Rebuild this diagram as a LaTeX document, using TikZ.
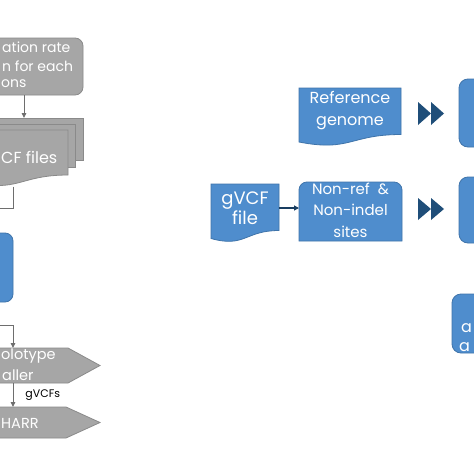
\documentclass[tikz,border=0pt]{standalone}
\usepackage{fontspec}
\setmainfont{Poppins}
\usetikzlibrary{arrows.meta}
\definecolor{bfill}{HTML}{4F8DCD}
\definecolor{bline}{HTML}{3F74AA}
\definecolor{gfill}{HTML}{A6A6A6}
\definecolor{gline}{HTML}{8A8A8A}
\definecolor{navy}{HTML}{1F4E79}
\definecolor{conn}{HTML}{6E6E6E}
\tikzset{
  bshape/.style={fill=bfill, draw=bline, line width=0.8pt},
  gshape/.style={fill=gfill, draw=gline, line width=0.8pt},
  holder/.style={draw=none, inner sep=0pt, outer sep=0pt},
  wtext/.style={text=white, inner sep=0pt, font=\fontsize{16pt}{22pt}\selectfont},
  wtextS/.style={text=white, inner sep=0pt, font=\fontsize{14pt}{19pt}\selectfont},
  gconn/.style={draw=conn, line width=0.9pt},
  garrow/.style={gconn, -{Triangle[length=5pt,width=4.5pt]}},
  barrow/.style={draw=navy!80!black, line width=1.1pt, -{Triangle[length=5pt,width=5pt]}},
  tri/.style={fill=navy, draw=none}
}
\begin{document}
\begin{tikzpicture}[x=1pt,y=-1pt]
\useasboundingbox (0,0) rectangle (474,474);
\clip (0,0) rectangle (474,474);
\fill[white] (0,0) rectangle (474,474);

% ---------- left column ----------
\node[holder, minimum width=110pt, minimum height=57pt] (calc) at (28,66.5) {};
\path[gshape, rounded corners=8pt] (-27,38) rectangle (83,95);
\node[wtextS, anchor=west] (calcA) at (2,47) {ation rate};
\node[wtextS, anchor=west] (calcB) at (2,66) {n for each};
\node[wtextS, anchor=west] (calcC) at (1,84) {ons};

% stacked documents
\node[holder, minimum width=113pt, minimum height=42pt] (stack) at (26.5,139) {};
\path[gshape] (-30,118) rectangle (83,160);
\path[gshape] (-30,124) rectangle (75,167);
\node[holder, minimum width=98pt, minimum height=56pt] (front) at (19,158) {};
\path[gshape] (-30,130) -- (68,130) -- (68,175) .. controls (19,175) and (19,193) .. (-30,182) -- cycle;
\node[wtext, anchor=west] (cf) at (1,157) {CF files};

\coordinate (x24) at (24,0);
\coordinate (x13) at (13,0);
\draw[garrow] (calc.south -| x24) -- (stack.north -| x24);
\coordinate (stackout) at (-5,208);
\draw[gconn] (13,186.5) |- (stackout);

% blue box (clipped)
\node[holder, minimum width=50pt, minimum height=69pt] (blueL) at (-12,267.5) {};
\path[bshape, rounded corners=8pt] (-37,233) rectangle (13,302);

% haplotype caller
\node[holder, minimum width=130pt, minimum height=35pt] (hc) at (35,365.5) {};
\path[gshape] (-30,348) -- (68,348) -- (100,365.5) -- (68,383) -- (-30,383) -- cycle;
\node[wtext, font=\fontsize{14.5pt}{18pt}\selectfont, anchor=west] (hcA) at (1,356) {olotype};
\node[wtext, font=\fontsize{14.5pt}{18pt}\selectfont, anchor=west] (hcB) at (2,375) {aller};

\coordinate (elbowin) at (-5,325);
\draw[garrow] (elbowin) -| (hc.north -| x13);

% HARR
\node[holder, minimum width=130pt, minimum height=31pt] (harr) at (35,422.5) {};
\path[gshape] (-30,407) -- (66,407) -- (100,422.5) -- (66,438) -- (-30,438) -- cycle;
\node[wtext, font=\fontsize{14.5pt}{18pt}\selectfont, anchor=west] (harrT) at (1,423) {HARR};

\draw[garrow] (hc.south -| x13) -- node[anchor=west, text=black, inner sep=0pt, xshift=12pt, font=\fontsize{11pt}{13pt}\selectfont] (gv) {gVCFs} (harr.north -| x13);

% ---------- right part ----------
% Reference genome
\node[holder, minimum width=102pt, minimum height=47pt] (ref) at (350,111.5) {};
\path[bshape] (299,88) -- (401,88) -- (401,134.5) .. controls (350,134.5) and (350,152) .. (299,142) -- cycle;
\node[wtext, align=center] (refT) at (350,110.5) {Reference\\genome};

% gVCF file
\node[holder, minimum width=68pt, minimum height=48pt] (gvcf) at (245,208) {};
\path[bshape] (211,184) -- (279,184) -- (279,230.5) .. controls (245,230.5) and (245,248) .. (211,238.5) -- cycle;
\node[wtext, align=center, font=\fontsize{18pt}{20pt}\selectfont] (gvcfT) at (245,208) {gVCF\\file};

% Non-ref box
\node[holder, minimum width=103pt, minimum height=59pt] (nonref) at (350.5,211.5) {};
\path[bshape] (299,241) -- (299,190) .. controls (299,185.6) and (302.6,182) .. (307,182) -- (394,182) .. controls (398.4,182) and (402,185.6) .. (402,190) -- (402,241) -- cycle;
\node[wtext, align=center, font=\fontsize{15pt}{21.5pt}\selectfont] (nonrefT) at (350.5,210) {Non-ref\ \ \&\\Non-indel\\sites};

\draw[barrow] (gvcf.east) -- (gvcf.east -| nonref.west);

% double triangles
\node[holder, minimum width=26pt, minimum height=23pt] (ff1) at (431,113.5) {};
\path[tri] (418,102) -- (431,113.5) -- (418,125) -- cycle;
\path[tri] (431,102) -- (444,113.5) -- (431,125) -- cycle;
\node[holder, minimum width=26pt, minimum height=23pt] (ff2) at (431,209) {};
\path[tri] (418,198) -- (431,209) -- (418,220) -- cycle;
\path[tri] (431,198) -- (444,209) -- (431,220) -- cycle;

% right boxes (clipped)
\node[holder, minimum width=60pt, minimum height=68pt] (r1) at (489,113) {};
\path[bshape, rounded corners=9pt] (459,79) rectangle (520,147);
\node[holder, minimum width=60pt, minimum height=66pt] (r2) at (489,210) {};
\path[bshape, rounded corners=9pt] (459,177) rectangle (520,243);
\node[holder, minimum width=68pt, minimum height=59pt] (r3) at (486,323.5) {};
\path[bshape, rounded corners=9pt] (452,294) rectangle (520,353);
\node[wtext, anchor=west] (r3A) at (461,328) {a};
\node[wtext, anchor=west] (r3B) at (459,347) {a};
\end{tikzpicture}
\end{document}
